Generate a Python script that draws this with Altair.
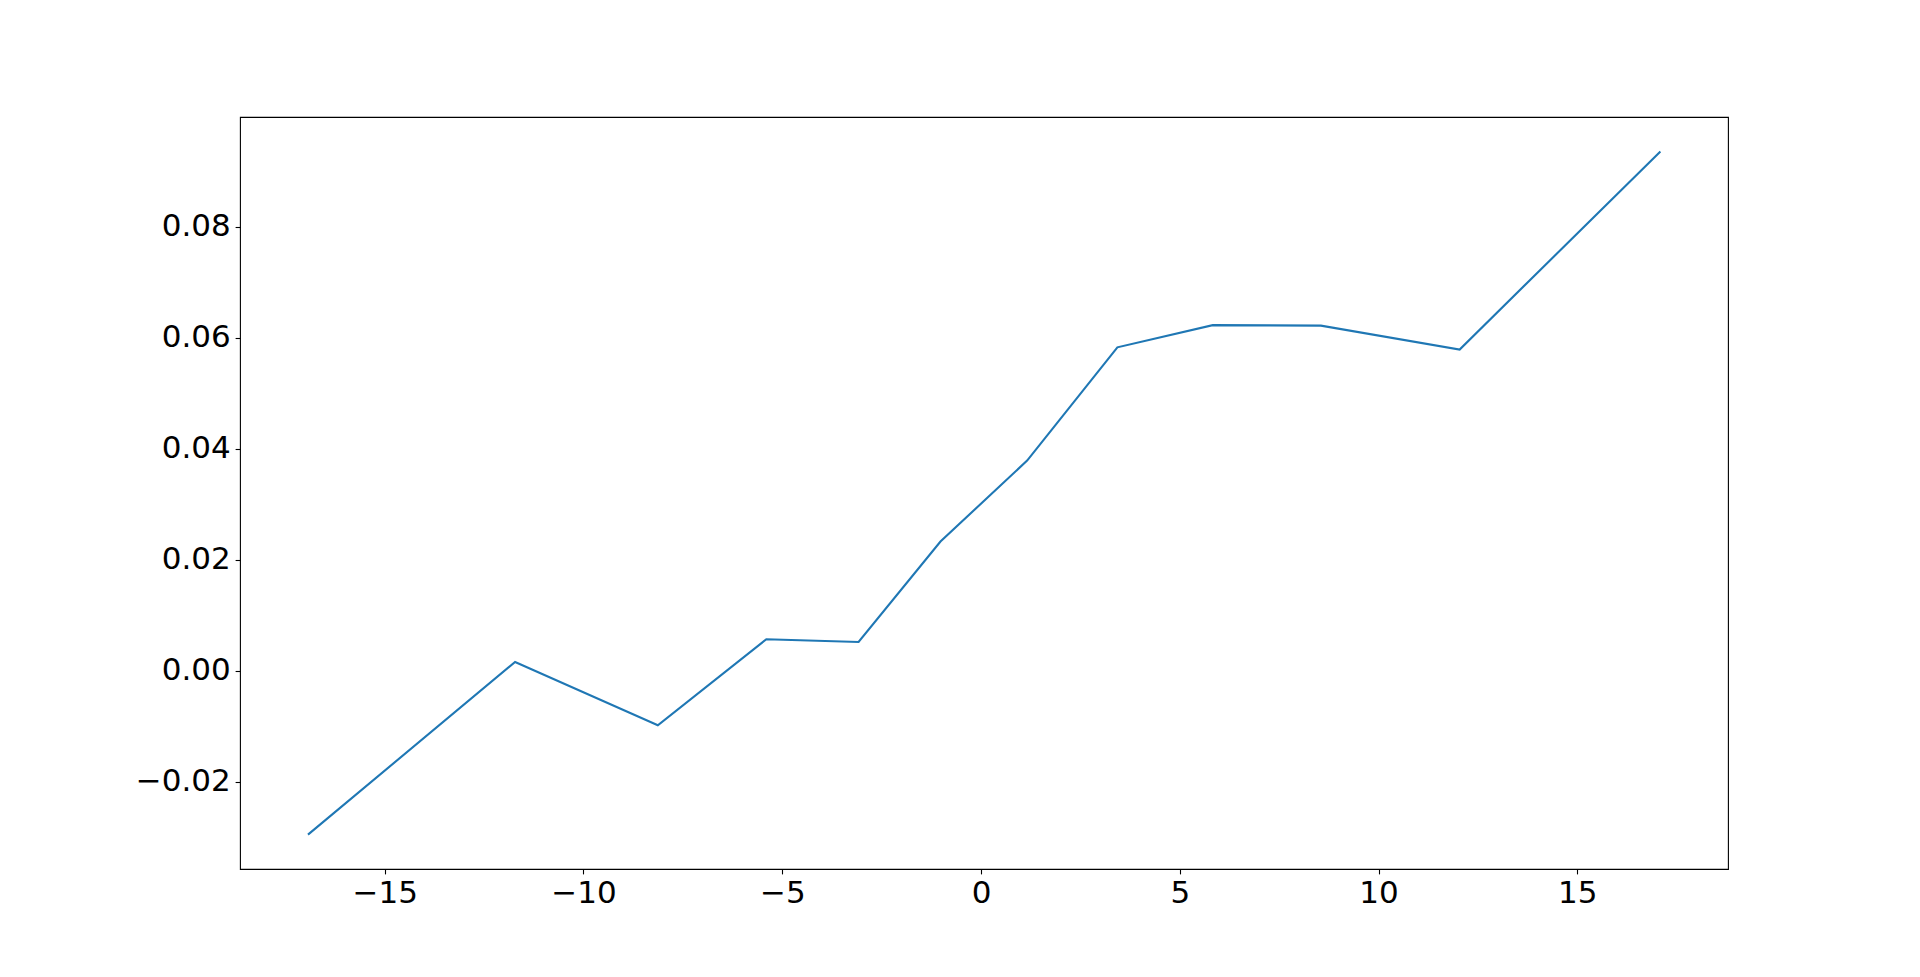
import altair as alt
import pandas as pd

# values
x_vals = [-16.93, -11.72, -8.13, -5.40, -3.08, -1.02, 1.16, 3.43, 5.83, 8.55, 12.04, 17.09]
y_vals = [-0.0295, 0.0016, -0.0098, 0.0057, 0.0052, 0.0233, 0.0379, 0.0583, 0.0623, 0.0622, 0.0579, 0.0936]

x_ticks = [-15, -10, -5, 0, 5, 10, 15]
y_ticks = [-0.02, 0.0, 0.02, 0.04, 0.06, 0.08]

data = pd.DataFrame({"x": x_vals, "y": y_vals})

chart = alt.Chart(data).mark_line(
    color="#1f77b4",
    strokeWidth=2.1
).encode(
    x=alt.X("x:Q", scale=alt.Scale(domain=[-18.64, 18.79], nice=False, zero=False),
            axis=alt.Axis(title=None, values=x_ticks, format="d")),
    y=alt.Y("y:Q", scale=alt.Scale(domain=[-0.0357, 0.0998], nice=False, zero=False),
            axis=alt.Axis(title=None, values=y_ticks, format=".2f")),
).properties(
    width=1488,
    height=752,
    autosize="none",
    padding={"left": 232, "top": 109, "right": 170, "bottom": 90},
).configure_view(
    stroke="black",
    strokeWidth=1.1,
).configure_axis(
    grid=False,
    domain=False,
    labelFont="DejaVu Sans",
    labelFontSize=31,
    labelColor="black",
    tickColor="black",
    tickSize=4.9,
    tickWidth=1.1,
    labelPadding=4.9,
)

chart.save("out.html", embed_options={"renderer": "svg", "actions": False})
